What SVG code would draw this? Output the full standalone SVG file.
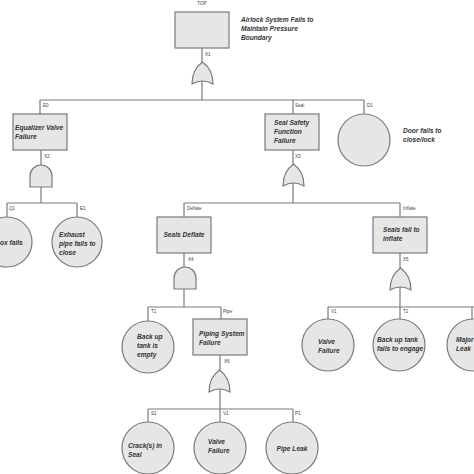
<svg xmlns="http://www.w3.org/2000/svg" width="474" height="474" viewBox="0 0 474 474">
<style>
.bg{fill:#fff}
.ln{fill:none;stroke:#7a7a7a;stroke-width:1.2}
.box{fill:#e6e6e6;stroke:#7a7a7a;stroke-width:1.2}
.ev{fill:#e6e6e6;stroke:#7a7a7a;stroke-width:1.2}
.gate{fill:#e6e6e6;stroke:#7a7a7a;stroke-width:1.2}
.t{font-family:"Liberation Sans",Arial,sans-serif;font-size:6.6px;font-weight:bold;font-style:italic;fill:#333}
.l{font-family:"Liberation Sans",Arial,sans-serif;font-size:4.6px;fill:#444}
</style>
<defs>
<path id="and" class="gate" d="M0,22 V11 A11,11 0 0 1 22,11 V22 Z"/>
<path id="or" class="gate" d="M0,22 C0,11 5,4 10.5,0 C16,4 21,11 21,22 Q10.5,16 0,22 Z"/>
</defs>
<rect class="bg" width="474" height="474"/>
<g id="connectors">
<path class="ln" d="M202,48 V100 M40,100 H364 M40,100 V114 M293,100 V114 M364,100 V114"/>
<path class="ln" d="M41,150 V203 M7,203 H77 M7,203 V217 M77,203 V217"/>
<path class="ln" d="M293,150 V203 M184,203 H400 M184,203 V217 M400,203 V217"/>
<path class="ln" d="M184,253 V307 M148,307 H221 M148,307 V321 M221,307 V319"/>
<path class="ln" d="M400,253 V307 M328,307 H474 M328,307 V319 M400,307 V319 M472,307 V319"/>
<path class="ln" d="M220,355 V409 M148,409 H293 M148,409 V422 M220,409 V422 M293,409 V422"/>
</g>
<g id="TOP">
<rect class="box" x="175" y="12" width="54" height="36"/>
<text class="l" x="202" y="5" text-anchor="middle">TOP</text>
<text class="t" x="241" y="22">Airlock System Fails to</text>
<text class="t" x="241" y="31">Maintain Pressure</text>
<text class="t" x="241" y="40">Boundary</text>
<text class="l" x="205" y="56">X1</text>
<use href="#or" x="192" y="62"/>
</g>
<g id="E0">
<text class="l" x="43" y="107">E0</text>
<rect class="box" x="13" y="114" width="54" height="36"/>
<text class="t" x="15" y="130">Equalizer Valve</text>
<text class="t" x="15" y="139">Failure</text>
<text class="l" x="44" y="158">X2</text>
<use href="#and" x="30" y="165"/>
</g>
<g id="Seal">
<text class="l" x="295" y="107">Seal</text>
<rect class="box" x="265" y="114" width="54" height="36"/>
<text class="t" x="274" y="125">Seal Safety</text>
<text class="t" x="274" y="134">Function</text>
<text class="t" x="274" y="143">Failure</text>
<text class="l" x="295" y="158">X3</text>
<use href="#or" x="283" y="164"/>
</g>
<g id="D1">
<text class="l" x="367" y="107">D1</text>
<circle class="ev" cx="364" cy="140" r="26"/>
<text class="t" x="403" y="133">Door fails to</text>
<text class="t" x="403" y="142">close/lock</text>
</g>
<g id="Q1">
<text class="l" x="9" y="210">Q1</text>
<circle class="ev" cx="7" cy="242" r="25"/>
<text class="t" x="0" y="245">ox fails</text>
</g>
<g id="E1">
<text class="l" x="80" y="210">E1</text>
<circle class="ev" cx="77" cy="242" r="25"/>
<text class="t" x="59" y="237">Exhaust</text>
<text class="t" x="59" y="246">pipe fails to</text>
<text class="t" x="59" y="255">close</text>
</g>
<g id="Deflate">
<text class="l" x="187" y="210">Deflate</text>
<rect class="box" x="157" y="217" width="54" height="36"/>
<text class="t" x="184" y="237" text-anchor="middle">Seals Deflate</text>
<text class="l" x="188" y="261">X4</text>
<use href="#and" x="174" y="267"/>
</g>
<g id="Inflate">
<text class="l" x="403" y="210">Inflate</text>
<rect class="box" x="373" y="217" width="54" height="36"/>
<text class="t" x="383" y="232">Seals fail to</text>
<text class="t" x="383" y="241">inflate</text>
<text class="l" x="403" y="261">X5</text>
<use href="#or" x="390" y="268"/>
</g>
<g id="T1">
<text class="l" x="151" y="313">T1</text>
<circle class="ev" cx="148" cy="347" r="26"/>
<text class="t" x="137" y="339">Back up</text>
<text class="t" x="137" y="348">tank is</text>
<text class="t" x="137" y="357">empty</text>
</g>
<g id="Pipe">
<text class="l" x="223" y="313">Pipe</text>
<rect class="box" x="193" y="319" width="54" height="36"/>
<text class="t" x="199" y="336">Piping System</text>
<text class="t" x="199" y="345">Failure</text>
<text class="l" x="224" y="363">X6</text>
<use href="#or" x="209" y="370"/>
</g>
<g id="V1a">
<text class="l" x="331" y="313">V1</text>
<circle class="ev" cx="328" cy="345" r="26"/>
<text class="t" x="318" y="344">Valve</text>
<text class="t" x="318" y="353">Failure</text>
</g>
<g id="T2">
<text class="l" x="403" y="313">T2</text>
<circle class="ev" cx="399" cy="345" r="26"/>
<text class="t" x="377" y="342">Back up tank</text>
<text class="t" x="377" y="351">fails to engage</text>
</g>
<g id="M1">
<circle class="ev" cx="473" cy="345" r="26"/>
<text class="t" x="456" y="342">Major</text>
<text class="t" x="456" y="351">Leak</text>
</g>
<g id="S1">
<text class="l" x="151" y="415">S1</text>
<circle class="ev" cx="148" cy="448" r="26"/>
<text class="t" x="128" y="448">Crack(s) in</text>
<text class="t" x="128" y="457">Seal</text>
</g>
<g id="V1b">
<text class="l" x="223" y="415">V1</text>
<circle class="ev" cx="220" cy="448" r="26"/>
<text class="t" x="208" y="444">Valve</text>
<text class="t" x="208" y="453">Failure</text>
</g>
<g id="P1">
<text class="l" x="295" y="415">P1</text>
<circle class="ev" cx="292" cy="448" r="26"/>
<text class="t" x="292" y="451" text-anchor="middle">Pipe Leak</text>
</g>
</svg>
